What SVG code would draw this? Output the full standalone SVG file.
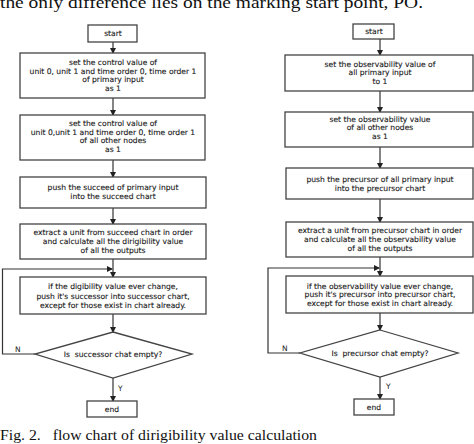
<svg xmlns="http://www.w3.org/2000/svg" width="474" height="444" viewBox="0 0 474 444">
<defs>
<marker id="ah" markerWidth="6" markerHeight="6" refX="5" refY="3" orient="auto" markerUnits="userSpaceOnUse">
<path d="M0,0 L6,3 L0,6 Z" fill="#222"/>
</marker>
<style>
.box{fill:#fff;stroke:#444;stroke-width:1.3}
.t{font-family:"DejaVu Sans",Verdana,sans-serif;font-size:7.6px;fill:#1a1a1a;stroke:#1a1a1a;stroke-width:0.12;text-anchor:middle}
.lbl{font-family:"DejaVu Sans",Verdana,sans-serif;font-size:7.5px;fill:#222}
.ln{fill:none;stroke:#333;stroke-width:1.2}
.cap{font-family:"Liberation Serif","Times New Roman",serif;fill:#111}
</style>
</defs>
<rect width="474" height="444" fill="#fff"/>
<text class="cap" x="0" y="8" font-size="17" textLength="423" lengthAdjust="spacingAndGlyphs">the only difference lies on the marking start point, PO.</text>
<text class="cap" x="0" y="440" font-size="15" textLength="317" lengthAdjust="spacingAndGlyphs" xml:space="preserve">Fig. 2.   flow chart of dirigibility value calculation</text>

<g id="connectors">
<line class="ln" x1="113" y1="42" x2="113" y2="53" marker-end="url(#ah)"/>
<line class="ln" x1="113" y1="98" x2="113" y2="115" marker-end="url(#ah)"/>
<line class="ln" x1="113" y1="160" x2="113" y2="177" marker-end="url(#ah)"/>
<line class="ln" x1="113" y1="208" x2="113" y2="224" marker-end="url(#ah)"/>
<line class="ln" x1="113" y1="259" x2="113" y2="277" marker-end="url(#ah)"/>
<line class="ln" x1="113" y1="314" x2="113" y2="332" marker-end="url(#ah)"/>
<line class="ln" x1="113" y1="378" x2="113" y2="401" marker-end="url(#ah)"/>
<polyline class="ln" points="35,354 2.5,354 2.5,269 112,269" marker-end="url(#ah)"/>
<text class="lbl" x="15" y="352">N</text>
<text class="lbl" x="118" y="391">Y</text>

<line class="ln" x1="380" y1="39" x2="380" y2="55" marker-end="url(#ah)"/>
<line class="ln" x1="380" y1="91" x2="380" y2="112" marker-end="url(#ah)"/>
<line class="ln" x1="380" y1="147" x2="380" y2="168" marker-end="url(#ah)"/>
<line class="ln" x1="380" y1="199" x2="380" y2="222" marker-end="url(#ah)"/>
<line class="ln" x1="380" y1="257" x2="380" y2="276" marker-end="url(#ah)"/>
<line class="ln" x1="380" y1="313" x2="380" y2="330" marker-end="url(#ah)"/>
<line class="ln" x1="380" y1="377" x2="380" y2="399" marker-end="url(#ah)"/>
<polyline class="ln" points="300,353 268,353 268,268 379,268" marker-end="url(#ah)"/>
<text class="lbl" x="282" y="351">N</text>
<text class="lbl" x="386" y="389">Y</text>
</g>

<g id="L-start"><rect class="box" x="88" y="25" width="49" height="17"/><text class="t" x="113" y="36">start</text></g>
<g id="L-b1"><rect class="box" x="20" y="53" width="185" height="45"/>
<text class="t" x="113" y="65">set the control value of</text>
<text class="t" x="113" y="74">unit 0, unit 1 and time order 0, time order 1</text>
<text class="t" x="113" y="82">of primary input</text>
<text class="t" x="113" y="91">as 1</text></g>
<g id="L-b2"><rect class="box" x="20" y="115" width="185" height="45"/>
<text class="t" x="113" y="126">set the control value of</text>
<text class="t" x="113" y="135">unit 0,unit 1 and time order 0, time order 1</text>
<text class="t" x="113" y="143">of all other nodes</text>
<text class="t" x="113" y="152">as 1</text></g>
<g id="L-b3"><rect class="box" x="20" y="177" width="186" height="31"/>
<text class="t" x="113" y="190">push the succeed of primary input</text>
<text class="t" x="113" y="199">into the succeed chart</text></g>
<g id="L-b4"><rect class="box" x="20" y="224" width="186" height="35"/>
<text class="t" x="113" y="235">extract a unit from succeed chart in order</text>
<text class="t" x="113" y="244">and calculate all the dirigibility value</text>
<text class="t" x="113" y="253">of all the outputs</text></g>
<g id="L-b5"><rect class="box" x="20" y="277" width="186" height="37"/>
<text class="t" x="113" y="289">if the digibility value ever change,</text>
<text class="t" x="113" y="299">push it's successor into successor chart,</text>
<text class="t" x="113" y="308">except for those exist in chart already.</text></g>
<g id="L-dec"><polygon class="box" points="113,332 192,354 113,378 35,354"/>
<text class="t" x="113" y="357" xml:space="preserve">Is  successor chat empty?</text></g>
<g id="L-end"><rect class="box" x="87" y="401" width="50" height="16"/><text class="t" x="112" y="412">end</text></g>

<g id="R-start"><rect class="box" x="353" y="24" width="41" height="15"/><text class="t" x="374" y="34">start</text></g>
<g id="R-b1"><rect class="box" x="285" y="55" width="188" height="36"/>
<text class="t" x="380" y="67">set the observability value of</text>
<text class="t" x="380" y="75">all primary input</text>
<text class="t" x="380" y="84">to 1</text></g>
<g id="R-b2"><rect class="box" x="285" y="112" width="188" height="35"/>
<text class="t" x="380" y="122">set the observability value</text>
<text class="t" x="380" y="130">of all other nodes</text>
<text class="t" x="380" y="139">as 1</text></g>
<g id="R-b3"><rect class="box" x="286" y="168" width="187" height="31"/>
<text class="t" x="380" y="182">push the precursor of all primary input</text>
<text class="t" x="380" y="191">into the precursor chart</text></g>
<g id="R-b4"><rect class="box" x="286" y="222" width="187" height="35"/>
<text class="t" x="380" y="233">extract a unit from precursor chart in order</text>
<text class="t" x="380" y="242">and calculate all the observability value</text>
<text class="t" x="380" y="251">of all the outputs</text></g>
<g id="R-b5"><rect class="box" x="286" y="276" width="187" height="37"/>
<text class="t" x="380" y="289">if the observability value ever change,</text>
<text class="t" x="380" y="297">push it's precursor into precursor chart,</text>
<text class="t" x="380" y="306">except for those exist in chart already.</text></g>
<g id="R-dec"><polygon class="box" points="380,330 458,353 380,377 300,353"/>
<text class="t" x="380" y="356" xml:space="preserve">Is  precursor chat empty?</text></g>
<g id="R-end"><rect class="box" x="354" y="399" width="40" height="16"/><text class="t" x="374" y="410">end</text></g>
</svg>
